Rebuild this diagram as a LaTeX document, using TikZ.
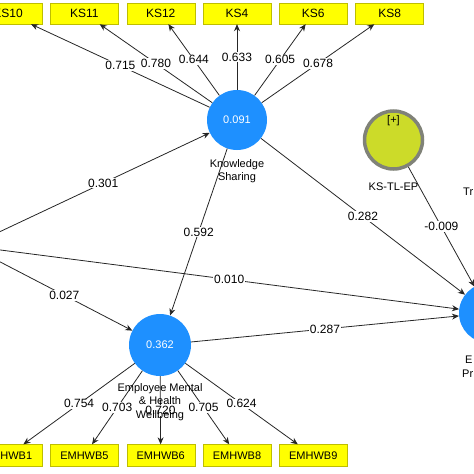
\documentclass[tikz,border=0pt]{standalone}
\usepackage{fontspec}
\setmainfont{Liberation Sans}
\usetikzlibrary{positioning,arrows.meta}
\tikzset{>={Stealth[length=7pt,width=6pt]}}
\definecolor{lvblue}{RGB}{30,144,255}
\definecolor{modgreen}{RGB}{204,219,41}
\definecolor{modgray}{RGB}{128,130,120}
\definecolor{boxyellow}{RGB}{255,255,0}
\definecolor{boxline}{RGB}{190,190,0}
\newcommand*{\coeffont}{\fontsize{12}{14}\selectfont}
\newcommand*{\lvfont}{\fontsize{11}{13.5}\selectfont}
\tikzset{
  latent/.style={circle,fill=lvblue,minimum size=60pt,inner sep=0pt,text=white,font=\lvfont},
  moderator/.style={circle,fill=modgreen,draw=modgray,line width=3.5pt,minimum size=58pt,inner sep=0pt},
  indicator/.style={rectangle,fill=boxyellow,draw=boxline,minimum width=68pt,minimum height=21pt,inner sep=0pt},
  lvname/.style={align=center,font=\lvfont,inner sep=0pt},
  effect/.style={->,draw=black!85,line width=0.8pt},
  coef/.style={fill=white,inner sep=1pt,font=\coeffont}
}

\begin{document}
\begin{tikzpicture}[x=1pt,y=-1pt]
\useasboundingbox (0,0) rectangle (474,474);
\clip (0,0) rectangle (474,474);

% Latent variables
\node[latent] (X) at (-30.5,246) {};
\node[latent] (KS) at (237,120) {0.091};
\node[latent,minimum size=62pt] (EMHWB) at (160,345) {0.362};
\node[latent] (EP) at (489,313) {};
\node[latent] (TL) at (505,150) {};
\node[moderator] (KSTLEP) at (393.5,140) {};

% Knowledge sharing indicators
\node[indicator,font=\coeffont] (KS10) at (8.1,13.5) {KS10};
\node[indicator,font=\coeffont] (KS11) at (84.4,13.5) {KS11};
\node[indicator,font=\coeffont] (KS12) at (160.7,13.5) {KS12};
\node[indicator,font=\coeffont] (KS4) at (237,13.5) {KS4};
\node[indicator,font=\coeffont] (KS6) at (313.3,13.5) {KS6};
\node[indicator,font=\coeffont] (KS8) at (389.6,13.5) {KS8};

% Wellbeing indicators
\node[indicator,font=\lvfont,minimum height=22pt] (EMHWB1) at (8,455.5) {EMHWB1};
\node[indicator,font=\lvfont,minimum height=22pt] (EMHWB5) at (84.4,455.5) {EMHWB5};
\node[indicator,font=\lvfont,minimum height=22pt] (EMHWB6) at (160.7,455.5) {EMHWB6};
\node[indicator,font=\lvfont,minimum height=22pt] (EMHWB8) at (237,455.5) {EMHWB8};
\node[indicator,font=\lvfont,minimum height=22pt] (EMHWB9) at (313.3,455.5) {EMHWB9};

% Outer loadings
\draw[effect] (KS) -- node[coef] {0.715} (KS10);
\draw[effect] (KS) -- node[coef] {0.780} (KS11);
\draw[effect] (KS) -- node[coef] {0.644} (KS12);
\draw[effect] (KS) -- node[coef] {0.633} (KS4);
\draw[effect] (KS) -- node[coef] {0.605} (KS6);
\draw[effect] (KS) -- node[coef] {0.678} (KS8);

\draw[effect] (EMHWB) -- node[coef] {0.754} (EMHWB1);
\draw[effect] (EMHWB) -- node[coef] {0.703} (EMHWB5);
\draw[effect] (EMHWB) -- node[coef] {0.720} (EMHWB6);
\draw[effect] (EMHWB) -- node[coef] {0.705} (EMHWB8);
\draw[effect] (EMHWB) -- node[coef] {0.624} (EMHWB9);

% Path coefficients
\draw[effect] (X) -- node[coef] {0.301} (KS);
\draw[effect] (X) -- node[coef] {0.027} (EMHWB);
\draw[effect] (X) -- node[coef] {0.010} (EP);
\draw[effect] (KS) -- node[coef] {0.592} (EMHWB);
\draw[effect] (KS) -- node[coef] {0.282} (EP);
\draw[effect] (EMHWB) -- node[coef] {0.287} (EP);
\draw[effect] (KSTLEP) -- node[coef] {-0.009} (EP);

% Names of the constructs
\node[lvname,below=9pt of KS] (KSname) {Knowledge\\Sharing};
\node[lvname,below=7pt of EMHWB] (EMHWBname) {Employee Mental\\\& Health\\Wellbeing};
\node[lvname,below=12pt of KSTLEP] (KSTLEPname) {KS-TL-EP};
\node[lvname] (KSTLEPplus) at (393.5,121) {[+]};
\node[lvname,anchor=west] (TLname) at (463,192) {Tr};
\node[lvname,anchor=west] (EPtop) at (465,360) {E};
\node[lvname,anchor=west] (EPbot) at (462,373.5) {Pr};

\end{tikzpicture}
\end{document}
